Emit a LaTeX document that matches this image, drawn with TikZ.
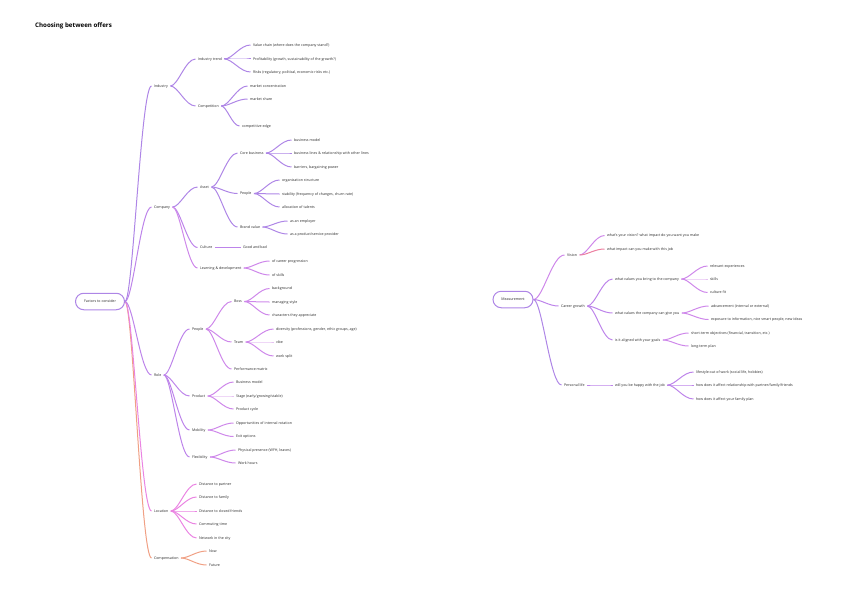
\documentclass[tikz,border=0pt]{standalone}
\usepackage{fontspec}
\setmainfont{Open Sans}
\usetikzlibrary{calc,shapes.misc}
\definecolor{inkgrey}{HTML}{2B2B2B}
\definecolor{lpurple}{HTML}{AE86E6}
\definecolor{lviolet}{HTML}{BD84EA}
\definecolor{lorchid}{HTML}{CE88EA}
\definecolor{lpale}{HTML}{E6C2F2}
\definecolor{lpink}{HTML}{EA84E2}
\definecolor{lred}{HTML}{EC7FA0}
\definecolor{lorange}{HTML}{F0A084}
\tikzset{limb/.style={line width=1pt}}
\newcommand{\limb}[3]{\draw [limb,#1] (#2.east) .. controls ({$(#2.east)!0.3!(#3.west)$} |- #2.east) and ({$(#2.east)!0.6!(#3.west)$} |- #3.west) .. (#3.west);}

\begin{document}
\begin{tikzpicture}[x=1pt,y=1pt]
    \tikzstyle{every node}+=[inner sep=0pt,text=inkgrey,font=\fontsize{3.6}{4.5}\selectfont,text height=3pt,text depth=0.9pt]
    \tikzstyle{leaf}=[outer xsep=2.5pt]
    \tikzstyle{rootbox}=[draw=lpurple,line width=1pt,rounded rectangle,minimum height=16.5pt]
    \useasboundingbox (0,1) rectangle (850,-593);
    \draw (35,-25) node [right,font=\fontsize{6.2}{7.5}\selectfont\bfseries,text=black] (title) {Choosing between offers};
    % left map
    \draw (100,-300.5) node [rootbox,minimum width=49pt] (factors) {Factors to consider};
    \draw (151.5,-85) node [right,leaf] (industry) {Industry};
    \draw (195.5,-58) node [right,leaf] (indTrend) {Industry trend};
    \draw (250.5,-44) node [right,leaf] (valueChain) {Value chain (where does the company stand?)};
    \draw (250.5,-58) node [right,leaf] (profit) {Profitability (growth, sustainability of the growth?)};
    \draw (250.5,-71) node [right,leaf] (risks) {Risks (regulatory, political, economic risks etc.)};
    \draw (195.5,-105) node [right,leaf] (competition) {Competition};
    \draw (247.5,-85) node [right,leaf] (concentration) {market concentration};
    \draw (247.5,-98) node [right,leaf] (share) {market share};
    \draw (239.5,-125) node [right,leaf] (edge) {competitive edge};
    \draw (151.5,-206) node [right,leaf] (company) {Company};
    \draw (197.5,-186) node [right,leaf] (asset) {Asset};
    \draw (237.5,-152) node [right,leaf] (coreBiz) {Core business};
    \draw (291.5,-139) node [right,leaf] (bizModel) {business model};
    \draw (291.5,-152) node [right,leaf] (bizLines) {business lines \& relationship with other lines};
    \draw (291.5,-166) node [right,leaf] (barriers) {barriers, bargaining power};
    \draw (237.5,-192.5) node [right,leaf] (assetPeople) {People};
    \draw (279.5,-179) node [right,leaf] (orgStruct) {organization structure};
    \draw (279.5,-193) node [right,leaf] (stability) {stability (frequency of changes, churn rate)};
    \draw (279.5,-206) node [right,leaf] (talents) {allocation of talents};
    \draw (237.5,-226) node [right,leaf] (brand) {Brand value};
    \draw (287.5,-220) node [right,leaf] (employer) {as an employer};
    \draw (287.5,-233) node [right,leaf] (provider) {as a product/service provider};
    \draw (197.5,-246.5) node [right,leaf] (culture) {Culture};
    \draw (240.5,-246.5) node [right,leaf] (goodBad) {Good and bad};
    \draw (197.5,-267) node [right,leaf] (learning) {Learning \& development};
    \draw (269.5,-260) node [right,leaf] (career) {of career progression};
    \draw (269.5,-274) node [right,leaf] (skillsOf) {of skills};
    \draw (151.5,-374) node [right,leaf] (role) {Role};
    \draw (189.5,-328) node [right,leaf] (rolePeople) {People};
    \draw (231.5,-300.5) node [right,leaf] (boss) {Boss};
    \draw (269.5,-287.5) node [right,leaf] (background) {background};
    \draw (269.5,-301) node [right,leaf] (managing) {managing style};
    \draw (269.5,-314) node [right,leaf] (characters) {characters they appreciate};
    \draw (231.5,-341) node [right,leaf] (team) {Team};
    \draw (273.5,-328) node [right,leaf] (diversity) {diversity (professions, gender, ethic groups, age)};
    \draw (273.5,-341) node [right,leaf] (vibe) {vibe};
    \draw (273.5,-355) node [right,leaf] (workSplit) {work split};
    \draw (231.5,-368) node [right,leaf] (perf) {Performance matrix};
    \draw (189.5,-395) node [right,leaf] (product) {Product};
    \draw (233.5,-381) node [right,leaf] (prodModel) {Business model};
    \draw (233.5,-395) node [right,leaf] (stage) {Stage (early/growing/stable)};
    \draw (233.5,-408) node [right,leaf] (cycle) {Product cycle};
    \draw (189.5,-429) node [right,leaf] (mobility) {Mobility};
    \draw (233.5,-422) node [right,leaf] (rotation) {Opportunities of internal rotation};
    \draw (233.5,-435.5) node [right,leaf] (exitOpt) {Exit options};
    \draw (189.5,-456) node [right,leaf] (flexibility) {Flexibility};
    \draw (235.5,-449) node [right,leaf] (presence) {Physical presence (WFH, leaves)};
    \draw (235.5,-462) node [right,leaf] (hours) {Work hours};
    \draw (151.5,-510) node [right,leaf] (location) {Location};
    \draw (196.5,-483) node [right,leaf] (partner) {Distance to partner};
    \draw (196.5,-496) node [right,leaf] (family) {Distance to family};
    \draw (196.5,-510) node [right,leaf] (friends) {Distance to closed friends};
    \draw (196.5,-523) node [right,leaf] (commute) {Commuting time};
    \draw (196.5,-537) node [right,leaf] (network) {Network in the city};
    \draw (151.5,-557) node [right,leaf] (compensation) {Compensation};
    \draw (206.5,-550) node [right,leaf] (now) {Now};
    \draw (206.5,-564) node [right,leaf] (future) {Future};
    % right map
    \draw (513,-298.5) node [rootbox,minimum width=40pt] (measure) {Measurement};
    \draw (564.5,-254) node [right,leaf] (vision) {Vision};
    \draw (604.5,-234.5) node [right,leaf] (yourVision) {what's your vision? what impact do you want you make};
    \draw (604.5,-248) node [right,leaf] (impact) {what impact can you make with this job};
    \draw (558.5,-305) node [right,leaf] (growth) {Career growth};
    \draw (612.5,-278) node [right,leaf] (bring) {what values you bring to the company};
    \draw (707.5,-265) node [right,leaf] (experiences) {relevant experiences};
    \draw (707.5,-278) node [right,leaf] (skills) {skills};
    \draw (707.5,-291.5) node [right,leaf] (cultureFit) {culture fit};
    \draw (612.5,-312) node [right,leaf] (give) {what values the company can give you};
    \draw (708.5,-305) node [right,leaf] (advance) {advancement (internal or external)};
    \draw (708.5,-318.5) node [right,leaf] (exposure) {exposure to information, nice smart people, new ideas};
    \draw (612.5,-339) node [right,leaf] (aligned) {is it aligned with your goals};
    \draw (688.5,-332) node [right,leaf] (shortTerm) {short-term objectives (financial, transition, etc.)};
    \draw (688.5,-345) node [right,leaf] (longTerm) {long-term plan};
    \draw (561.5,-384) node [right,leaf] (personal) {Personal life};
    \draw (612.5,-384) node [right,leaf] (happy) {will you be happy with the job};
    \draw (693.5,-371) node [right,leaf] (lifestyle) {lifestyle out of work (social life, hobbies)};
    \draw (693.5,-384) node [right,leaf] (relation) {how does it affect relationship with partner/family/friends};
    \draw (693.5,-398) node [right,leaf] (famPlan) {how does it affect your family plan};
    % limbs
    \limb{lorange}{factors}{compensation}
    \limb{lpink}{factors}{location}
    \limb{lviolet}{factors}{role}
    \limb{lviolet}{factors}{company}
    \limb{lpurple}{factors}{industry}
    \limb{lpurple}{industry}{indTrend}
    \limb{lpurple}{industry}{competition}
    \limb{lpurple}{indTrend}{valueChain}
    \limb{lpurple}{indTrend}{profit}
    \limb{lpurple}{indTrend}{risks}
    \limb{lpurple}{competition}{concentration}
    \limb{lpurple}{competition}{share}
    \limb{lpurple}{competition}{edge}
    \limb{lpurple}{company}{asset}
    \limb{lviolet}{company}{culture}
    \limb{lorchid}{company}{learning}
    \limb{lpurple}{asset}{coreBiz}
    \limb{lpurple}{asset}{assetPeople}
    \limb{lpurple}{asset}{brand}
    \limb{lpurple}{coreBiz}{bizModel}
    \limb{lpurple}{coreBiz}{bizLines}
    \limb{lpurple}{coreBiz}{barriers}
    \limb{lpurple}{assetPeople}{orgStruct}
    \limb{lpurple}{assetPeople}{stability}
    \limb{lpurple}{assetPeople}{talents}
    \limb{lpurple}{brand}{employer}
    \limb{lpurple}{brand}{provider}
    \limb{lviolet}{culture}{goodBad}
    \limb{lorchid}{learning}{career}
    \limb{lorchid}{learning}{skillsOf}
    \limb{lviolet}{role}{rolePeople}
    \limb{lviolet}{role}{product}
    \limb{lviolet}{role}{mobility}
    \limb{lviolet}{role}{flexibility}
    \limb{lorchid}{rolePeople}{boss}
    \limb{lorchid}{rolePeople}{team}
    \limb{lorchid}{rolePeople}{perf}
    \limb{lorchid}{boss}{background}
    \limb{lorchid}{boss}{managing}
    \limb{lorchid}{boss}{characters}
    \limb{lorchid}{team}{diversity}
    \limb{lpale}{team}{vibe}
    \limb{lorchid}{team}{workSplit}
    \limb{lorchid}{product}{prodModel}
    \limb{lpale}{product}{stage}
    \limb{lorchid}{product}{cycle}
    \limb{lorchid}{mobility}{rotation}
    \limb{lorchid}{mobility}{exitOpt}
    \limb{lorchid}{flexibility}{presence}
    \limb{lorchid}{flexibility}{hours}
    \limb{lpink}{location}{partner}
    \limb{lpink}{location}{family}
    \limb{lpink}{location}{friends}
    \limb{lpink}{location}{commute}
    \limb{lpink}{location}{network}
    \limb{lorange}{compensation}{now}
    \limb{lorange}{compensation}{future}
    \limb{lorchid}{measure}{vision}
    \limb{lviolet}{measure}{growth}
    \limb{lpurple}{measure}{personal}
    \limb{lorchid}{vision}{yourVision}
    \limb{lred}{vision}{impact}
    \limb{lviolet}{growth}{bring}
    \limb{lviolet}{growth}{give}
    \limb{lviolet}{growth}{aligned}
    \limb{lorchid}{bring}{experiences}
    \limb{lpale}{bring}{skills}
    \limb{lorchid}{bring}{cultureFit}
    \limb{lorchid}{give}{advance}
    \limb{lorchid}{give}{exposure}
    \limb{lorchid}{aligned}{shortTerm}
    \limb{lorchid}{aligned}{longTerm}
    \limb{lviolet}{personal}{happy}
    \limb{lviolet}{happy}{lifestyle}
    \limb{lviolet}{happy}{relation}
    \limb{lviolet}{happy}{famPlan}
\end{tikzpicture}
\end{document}
